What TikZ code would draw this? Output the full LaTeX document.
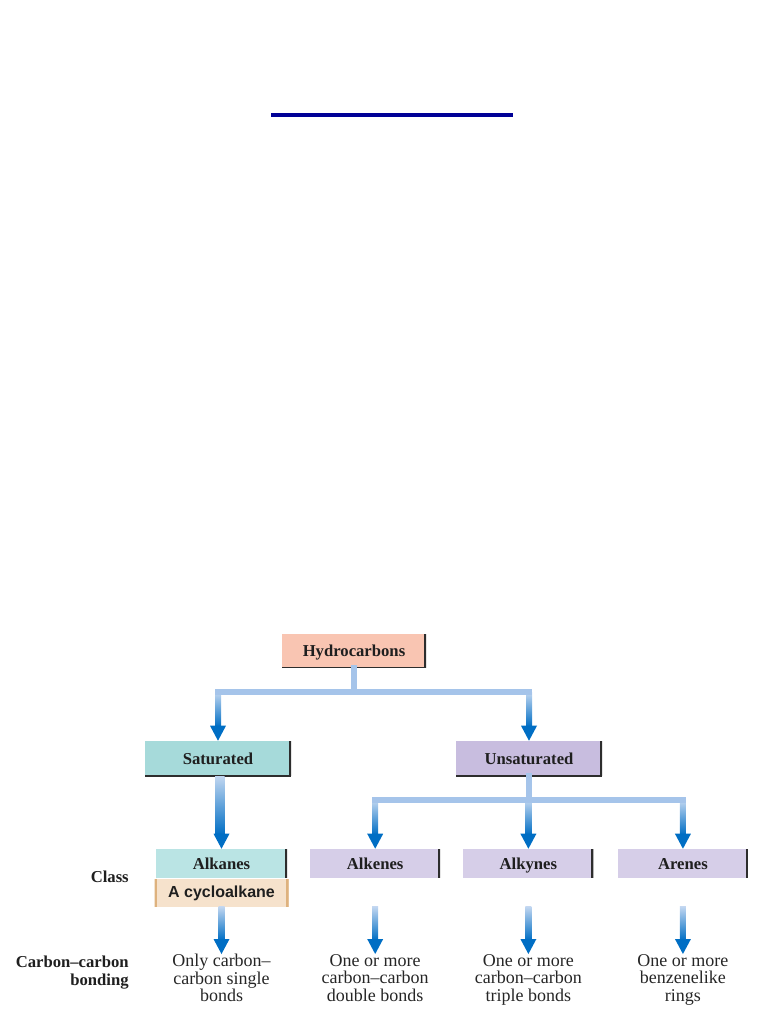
\documentclass[tikz,border=0pt]{standalone}
\usepackage{fontspec}
\setmainfont{Liberation Serif}
\newfontfamily\cyclofont{Liberation Sans}
\usetikzlibrary{positioning, calc}

\definecolor{hcfill}{RGB}{249,197,178}
\definecolor{satfill}{RGB}{166,218,218}
\definecolor{alkfill}{RGB}{186,228,228}
\definecolor{unsatfill}{RGB}{200,189,223}
\definecolor{enefill}{RGB}{214,206,232}
\definecolor{cyclofill}{RGB}{246,226,204}
\definecolor{cycloedge}{RGB}{222,178,126}
\definecolor{edgegray}{RGB}{45,45,45}
\definecolor{flowlight}{RGB}{165,196,234}
\definecolor{flowdark}{RGB}{0,110,196}
\definecolor{titleblue}{RGB}{0,0,150}

\tikzset{box/.style={inner sep=0pt, text height=9pt, text depth=0.6pt, font=\fontsize{12.5}{14}\selectfont\bfseries, text=black!88}}
\tikzset{topbox/.style={box, minimum width=108pt, minimum height=25.5pt,
  path picture={\draw[edgegray, line width=3pt] (path picture bounding box.north east) -- (path picture bounding box.south east);
  \draw[edgegray, line width=1.5pt] (path picture bounding box.south west) -- (path picture bounding box.south east);}}}
\tikzset{classbox/.style={box, minimum width=97.5pt, minimum height=21.75pt,
  path picture={\draw[edgegray, line width=3pt] (path picture bounding box.north east) -- (path picture bounding box.south east);}}}
\tikzset{cyclobox/.style={inner sep=0pt, fill=cyclofill, minimum width=100.5pt, minimum height=21pt,
  text height=8.6pt, text depth=0.6pt, font=\cyclofont\fontsize{12}{14}\selectfont\bfseries, text=black!88,
  path picture={\draw[cycloedge, line width=4pt] (path picture bounding box.north east) -- (path picture bounding box.south east);
  \draw[cycloedge, line width=4pt] (path picture bounding box.north west) -- (path picture bounding box.south west);}}}
\tikzset{desc/.style={align=center, inner sep=0pt, anchor=north, font=\fontsize{13.5}{13.1}\selectfont, text=black!85}}
\tikzset{rowlabel/.style={align=right, inner sep=0pt, font=\fontsize{12.5}{13}\selectfont\bfseries, text=black!88}}
\tikzset{bar/.style={draw=flowlight, line width=4.5pt, line cap=rect}}

% shaded shaft plus solid head, pointing down
\newcommand{\flowdown}[2]{%
  \shade[top color=flowlight!70!white, bottom color=flowdark] ($(#1)+(-3,0)$) rectangle ($(#2)+(3,-14)$);
  \fill[flowdark] ($(#2)+(-8,-15)$) -- (#2) -- ($(#2)+(8,-15)$) -- cycle;}

\begin{document}
\begin{tikzpicture}[x=0.75pt, y=-0.75pt]
\useasboundingbox (0,0) rectangle (768,1024);

\draw[titleblue, line width=3pt] (271,115) -- (513,115);

\node[topbox, fill=hcfill] (hc) at (354,650.5) {Hydrocarbons};
\node[topbox, fill=satfill, minimum width=109.5pt, minimum height=26.25pt] (sat) at (218,758.5) {Saturated};
\node[topbox, fill=unsatfill, minimum width=109.5pt, minimum height=26.25pt] (unsat) at (529,758.5) {Unsaturated};

\node[classbox, fill=alkfill, minimum width=98.25pt] (alkanes) at (221.5,863.5) {Alkanes};
\node[cyclobox, below=0pt of alkanes] (cyclo) {A cycloalkane};
\node[classbox, fill=enefill, right=17pt of alkanes] (alkenes) {Alkenes};
\node[classbox, fill=enefill, right=17pt of alkenes] (alkynes) {Alkynes};
\node[classbox, fill=enefill, right=18pt of alkynes] (arenes) {Arenes};

\node[rowlabel, anchor=east] (classlabel) at (129,877) {Class};
\node[rowlabel, anchor=north east] (bondlabel) at (129,956) {Carbon–carbon\\bonding};

\node[desc] (single) at (alkanes.center |- 0,954) {Only carbon–\\carbon single\\bonds};
\node[desc] (double) at (alkenes.center |- 0,954) {One or more\\carbon–carbon\\double bonds};
\node[desc] (triple) at (alkynes.center |- 0,954) {One or more\\carbon–carbon\\triple bonds};
\node[desc] (rings) at (arenes.center |- 0,954) {One or more\\benzenelike\\rings};

\coordinate (topbar) at (352,692);
\coordinate (sattop) at (sat.north |- topbar);
\coordinate (unsattop) at (unsat.north |- topbar);
\coordinate (unsatbar) at (unsat.south |- 0,800);
\coordinate (enetop) at (alkenes.north |- unsatbar);
\coordinate (ynetop) at (alkynes.north |- unsatbar);
\coordinate (arenetop) at (arenes.north |- unsatbar);
\coordinate (enetail) at (alkenes.south |- cyclo.south);
\coordinate (ynetail) at (alkynes.south |- cyclo.south);
\coordinate (arenetail) at (arenes.south |- cyclo.south);

\flowdown{sattop}{sat.north}
\flowdown{unsattop}{unsat.north}
\flowdown{sat.south}{alkanes.north}
\flowdown{enetop}{alkenes.north}
\flowdown{ynetop}{alkynes.north}
\flowdown{arenetop}{arenes.north}
\flowdown{cyclo.south}{single.north}
\flowdown{enetail}{double.north}
\flowdown{ynetail}{triple.north}
\flowdown{arenetail}{rings.north}

\draw[bar] (hc.south) -- (hc.south |- topbar);
\draw[bar] (sattop) -- (unsattop);
\draw[bar] (unsat.south) -- (unsatbar);
\draw[bar] (enetop) -- (arenetop);

\end{tikzpicture}
\end{document}
